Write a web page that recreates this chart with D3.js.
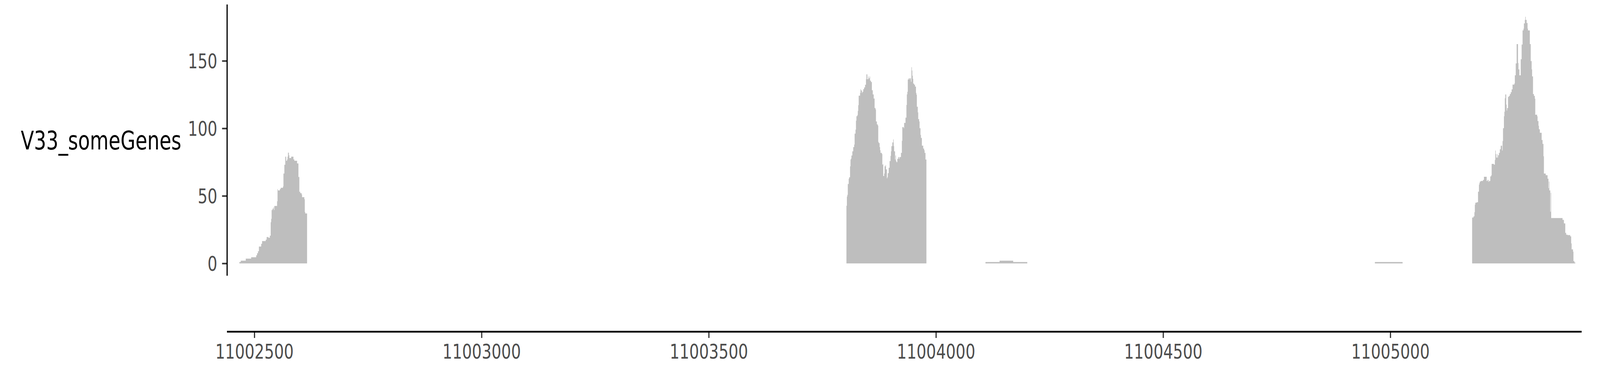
<!DOCTYPE html>
<html>
<head>
<meta charset="utf-8">
<script src="https://cdn.jsdelivr.net/npm/d3@7"></script>
<style>
  html, body { margin: 0; padding: 0; background: #fff; overflow: hidden; }
  svg { display: block; width: 100vw; height: 100vh; font-family: "DejaVu Sans", sans-serif; }
</style>
</head>
<body>
<svg id="chart" viewBox="0 0 5400 943" preserveAspectRatio="none"></svg>
<script>
// ---- data (start position of each step, coverage) ----
const trackLabel = 'V33_someGenes';
const xRange = [11002441, 11005421];
const xTicks = [11002500, 11003000, 11003500, 11004000, 11004500, 11005000];
const yTicks = [0, 50, 100, 150];

const peak1Pos = [11002467, 11002470, 11002481, 11002493, 11002504, 11002506, 11002508, 11002510,
  11002515, 11002517, 11002525, 11002527, 11002531, 11002534, 11002536, 11002537, 11002538,
  11002540, 11002542, 11002543, 11002544, 11002550, 11002551, 11002552, 11002554, 11002556,
  11002558, 11002563, 11002564, 11002566, 11002568, 11002570, 11002572, 11002573, 11002574,
  11002576, 11002577, 11002581, 11002586, 11002588, 11002594, 11002597, 11002599, 11002601,
  11002604, 11002605, 11002610, 11002611, 11002612];
const peak1Cov = [1, 2, 3.5, 4.5, 6, 7.5, 9, 12.5, 14.5, 16.5, 17.5, 19.5, 19, 20.5, 30.5, 33, 39.5,
  40.5, 41.5, 39.5, 42.5, 46, 55, 54, 54, 55, 56, 57, 66.5, 73, 79, 76, 77, 79, 82, 80, 78, 79, 77, 76,
  74, 64, 53, 52, 51, 49, 47.5, 38, 37];
const peak1End = 11002616;

const peak2Pos = [11003803, 11003804, 11003805, 11003806, 11003808, 11003809, 11003811, 11003812,
  11003813, 11003814, 11003816, 11003818, 11003820, 11003821, 11003823, 11003824, 11003825,
  11003827, 11003828, 11003829, 11003830, 11003833, 11003834, 11003835, 11003837, 11003838,
  11003840, 11003842, 11003844, 11003846, 11003847, 11003849, 11003851, 11003852, 11003854,
  11003855, 11003857, 11003859, 11003861, 11003863, 11003865, 11003867, 11003868, 11003870,
  11003872, 11003873, 11003874, 11003876, 11003877, 11003878, 11003881, 11003882, 11003883,
  11003884, 11003886, 11003887, 11003889, 11003890, 11003892, 11003893, 11003894, 11003896,
  11003898, 11003900, 11003901, 11003902, 11003904, 11003906, 11003907, 11003908, 11003910,
  11003911, 11003912, 11003913, 11003915, 11003917, 11003919, 11003920, 11003922, 11003923,
  11003925, 11003926, 11003929, 11003930, 11003933, 11003935, 11003936, 11003937, 11003938,
  11003940, 11003942, 11003943, 11003945, 11003946, 11003947, 11003948, 11003949, 11003950,
  11003952, 11003954, 11003956, 11003957, 11003958, 11003960, 11003961, 11003963, 11003964,
  11003966, 11003967, 11003969, 11003972, 11003974, 11003975, 11003977];
const peak2Cov = [42.7, 49.5, 50.8, 58.8, 62.7, 63.8, 71.9, 76.9, 77.6, 79.9, 83, 86.1, 88, 96.1, 99,
  105.7, 109, 109.9, 112.9, 117.2, 124.2, 126.2, 129, 128.1, 126.2, 127.1, 129, 130.3, 132.3, 136.4,
  140, 136.4, 138.4, 137.1, 138.4, 135.3, 134.3, 128.2, 125.1, 122.1, 115.1, 114, 105.1, 102.9, 102,
  90, 89.1, 86.1, 83.8, 81.8, 81, 73, 73.5, 64.7, 66.5, 71.9, 72.8, 69.6, 63, 63.9, 66.8, 70.8, 75.8,
  79.6, 83, 86.8, 89.6, 91.8, 86.8, 83, 76.9, 79.9, 75.8, 75, 77.4, 78.7, 77.4, 78.7, 78.7, 81.8, 90.7,
  100.9, 100.1, 104, 107.9, 117.3, 125.1, 127.1, 136.2, 137.1, 136.2, 137.1, 134.5, 145.3, 142.8, 139,
  136.7, 133.1, 132.3, 130.9, 126.2, 124.9, 116, 111.8, 106.8, 105.1, 100.1, 95.1, 92.9, 87.2, 85,
  83.8, 81.8, 76.9];
const peak2End = 11003979;

const peak3Pos = [11004109, 11004140, 11004170];
const peak3Cov = [1, 2, 1];
const peak3End = 11004201;

const peak4Pos = [11004966];
const peak4Cov = [1];
const peak4End = 11005027;

const peak5Pos = [11005180, 11005183, 11005185, 11005186, 11005187, 11005190, 11005193, 11005195,
  11005196, 11005197, 11005199, 11005204, 11005206, 11005212, 11005214, 11005216, 11005217,
  11005220, 11005222, 11005223, 11005228, 11005230, 11005231, 11005232, 11005233, 11005235,
  11005236, 11005237, 11005239, 11005241, 11005243, 11005246, 11005247, 11005248, 11005250,
  11005251, 11005252, 11005253, 11005255, 11005256, 11005257, 11005259, 11005261, 11005263,
  11005265, 11005267, 11005269, 11005273, 11005274, 11005276, 11005278, 11005281, 11005282,
  11005284, 11005287, 11005289, 11005291, 11005293, 11005294, 11005296, 11005297, 11005298,
  11005300, 11005302, 11005303, 11005307, 11005309, 11005311, 11005312, 11005314, 11005316,
  11005318, 11005319, 11005323, 11005324, 11005326, 11005327, 11005329, 11005333, 11005335,
  11005337, 11005338, 11005342, 11005346, 11005348, 11005349, 11005350, 11005352, 11005353,
  11005354, 11005379, 11005382, 11005385, 11005387, 11005390, 11005396, 11005398, 11005399,
  11005402, 11005403, 11005405];
const peak5Cov = [33.9, 34.8, 37.9, 43.5, 44.9, 45.3, 53.1, 58.3, 59.6, 60.6, 61, 61.8, 64.1, 61, 61.8,
  60.4, 61, 64.4, 65.3, 73.7, 73.1, 76.6, 83.6, 81, 78.4, 81, 78.4, 80.1, 81.8, 84.5, 87.1, 83.6, 90.6,
  100.1, 108.9, 112.3, 122.3, 125.1, 117.6, 113.2, 115, 123.3, 124, 125.4, 126.8, 128.9, 132.4, 133.3,
  139.3, 148.1, 162.4, 148.4, 143.7, 139.3, 151.2, 162, 172.5, 173.8, 177.7, 180.3, 182.6, 180.3, 178,
  173.8, 172.5, 162.4, 149.8, 143.7, 138.5, 125.4, 124, 121.9, 110.1, 108.9, 105.4, 101.9, 99.3, 96.7,
  91.4, 88.5, 79.3, 66.5, 65.3, 62.7, 55.7, 60.6, 54, 38.3, 52.2, 33.6, 32.2, 29.6, 22.6, 21.2, 20.9,
  20, 14.8, 10.4, 8.7, 1.7, 0.7];
const peak5End = 11005407;

// ---- build step segments ----
function steps(pos, cov, end) {
  const pts = pos.map((p, i) => ({ x: p, y: cov[i] }));
  pts.push({ x: end, y: cov[cov.length - 1] });
  return pts;
}
const peaks = [
  steps(peak1Pos, peak1Cov, peak1End),
  steps(peak2Pos, peak2Cov, peak2End),
  steps(peak3Pos, peak3Cov, peak3End),
  steps(peak4Pos, peak4Cov, peak4End),
  steps(peak5Pos, peak5Cov, peak5End)
];

// ---- layout (drawn in a 5400x943 frame, stretched to the window) ----
const panel = { left: 766.5, right: 5338, top: 11.5, bottom: 706.5 };
const xAxisY = 850;

const svg = d3.select('#chart');

const yMax = d3.max(peaks.flat(), d => d.y);
const pad = 0.05 * yMax;

const x = d3.scaleLinear().domain(xRange).range([768, panel.right]);
const y = d3.scaleLinear().domain([-pad, yMax + pad]).range([panel.bottom, panel.top]);

// coverage areas
const area = d3.area()
  .curve(d3.curveStepAfter)
  .x(d => x(d.x))
  .y0(y(0))
  .y1(d => y(d.y));

svg.append('g').attr('class', 'coverage')
  .selectAll('path')
  .data(peaks)
  .join('path')
  .attr('d', area)
  .attr('fill', '#BEBEBE')
  .attr('stroke', 'none');

// y axis
const yAxis = svg.append('g')
  .attr('transform', `translate(${panel.left},0)`)
  .call(d3.axisLeft(y).tickValues(yTicks).tickSize(17).tickPadding(16));
yAxis.select('.domain').remove();
yAxis.selectAll('.tick line').attr('stroke', '#333333').attr('stroke-width', 4);
yAxis.selectAll('.tick text')
  .attr('fill', '#4D4D4D').attr('font-size', 52)
  .attr('font-family', '"DejaVu Sans", sans-serif')
  .attr('dy', '0.36em');
yAxis.append('line')
  .attr('x1', 0).attr('x2', 0)
  .attr('y1', panel.top).attr('y2', panel.bottom)
  .attr('stroke', '#000').attr('stroke-width', 4);

// track label
svg.append('text')
  .attr('x', 612)
  .attr('y', (panel.top + panel.bottom) / 2 + 0.365 * 65)
  .attr('text-anchor', 'end')
  .attr('font-size', 65)
  .attr('fill', '#000')
  .text(trackLabel);

// x axis (bottom track)
const xAxis = svg.append('g')
  .attr('transform', `translate(0,${xAxisY})`)
  .call(d3.axisBottom(x).tickValues(xTicks).tickFormat(d3.format('d')).tickSize(16).tickPadding(16));
xAxis.select('.domain').remove();
xAxis.selectAll('.tick line').attr('stroke', '#333333').attr('stroke-width', 4);
xAxis.selectAll('.tick text')
  .attr('fill', '#4D4D4D').attr('font-size', 52)
  .attr('font-family', '"DejaVu Sans", sans-serif');
xAxis.append('line')
  .attr('x1', 766).attr('x2', panel.right)
  .attr('y1', 0).attr('y2', 0)
  .attr('stroke', '#000').attr('stroke-width', 4.5);
</script>
</body>
</html>
